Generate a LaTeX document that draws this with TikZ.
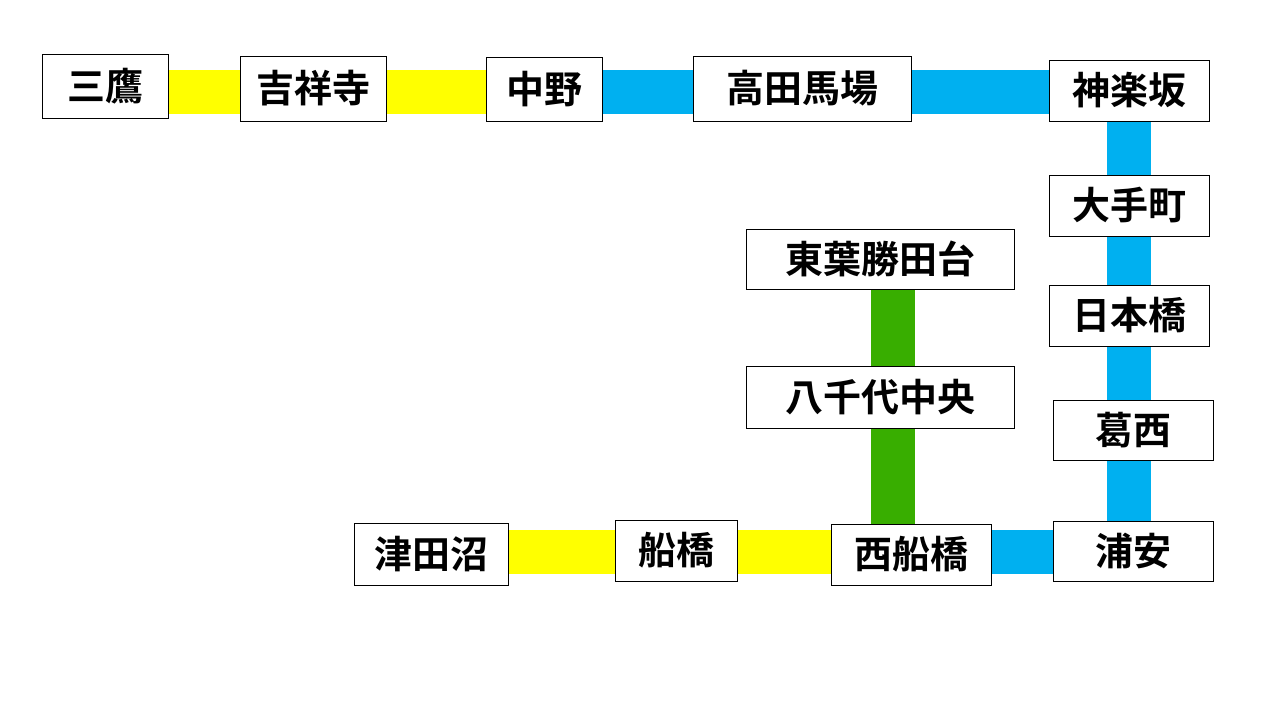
\documentclass[tikz,border=0pt]{standalone}
\usepackage{fontspec}
\setmainfont{Noto Sans CJK JP}[BoldFont={* Bold}]
\usetikzlibrary{backgrounds}
\definecolor{ly}{RGB}{255,255,0}
\definecolor{lb}{RGB}{0,176,240}
\definecolor{lg}{RGB}{56,174,0}
\tikzset{st/.style={draw=black,fill=white,line width=0.8pt,inner sep=0pt,font=\fontsize{38}{38}\selectfont\bfseries},
ln/.style={line width=44pt}}
\begin{document}
\begin{tikzpicture}[x=1pt,y=-1pt]
\useasboundingbox (0,0) rectangle (1280,720);
\newcommand{\st}[6]{\node[st,minimum width=#4-#3,minimum height=#6-#5] (#1) at ({(#3+#4)/2},{(#5+#6)/2}) {#2};}
\st{a}{三鷹}{42}{168}{54}{118}
\st{b}{吉祥寺}{240}{386}{56}{121}
\st{c}{中野}{486}{602}{57}{121}
\st{d}{高田馬場}{693}{911}{56}{121}
\st{e}{神楽坂}{1049}{1209}{60}{121}
\st{f}{大手町}{1049}{1209}{175}{236}
\st{g}{日本橋}{1049}{1209}{285}{346}
\st{h}{葛西}{1053}{1213}{400}{460}
\st{i}{浦安}{1053}{1213}{521}{581}
\st{j}{西船橋}{831}{991}{524}{585}
\st{k}{船橋}{615}{737}{520}{581}
\st{l}{津田沼}{354}{508}{523}{585}
\st{m}{東葉勝田台}{746}{1014}{229}{289}
\st{n}{八千代中央}{746}{1014}{366}{428}
\begin{pgfonlayer}{background}
\draw[ln,ly] (a.east|-0,92) -- (c.west|-0,92);
\draw[ln,lb] (c.east|-0,92) -- (1129,92) -- (1129,552) -- (j.east|-0,552);
\draw[ln,ly] (l.east|-0,552) -- (j.west|-0,552);
\draw[ln,lg] (893,289) -- (893,524);
\end{pgfonlayer}
\end{tikzpicture}
\end{document}
